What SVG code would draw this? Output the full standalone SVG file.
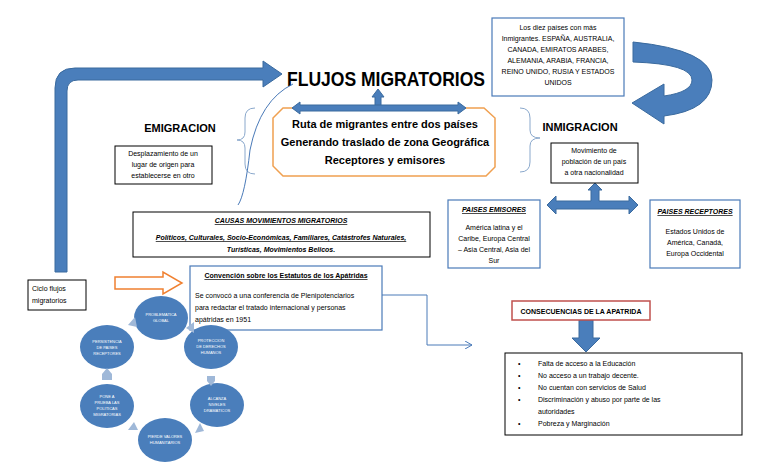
<svg xmlns="http://www.w3.org/2000/svg" width="768" height="466" viewBox="0 0 768 466">
<style>
text{font-family:"Liberation Sans",Arial,sans-serif;fill:#000}
.b{fill:#fff;stroke:#000;stroke-width:1}
.bb{fill:#fff;stroke:#4a7ab8;stroke-width:1.2}
.s{font-size:7px}
.t{font-size:8px}
.bold{font-weight:bold}
.cl{fill:#4a7ebb}
.ct{font-size:4px;fill:#fff;text-anchor:middle}
.ar{fill:#4a7ebb;stroke:#3a6a9e;stroke-width:1}
.sa{fill:#9fb8d8}
</style>
<defs><marker id="m" markerWidth="8" markerHeight="8" refX="7" refY="4" orient="auto"><path d="M0,0 L7,4 L0,8" fill="none" stroke="#4a7ab8"/></marker></defs>
<rect width="768" height="466" fill="#fff"/>
<g id="bigarrow"><path class="ar" d="M55,272 V88 Q55,68 75,68 H263 V61 L282,74 L263,87 V80 H78 Q67,80 67,91 V272 Z"/></g>
<g id="title"><text x="287" y="86" font-size="21" font-weight="bold" textLength="198" lengthAdjust="spacingAndGlyphs">FLUJOS MIGRATORIOS</text></g>
<g id="ruta">
<path d="M283,108 H484 L495,118 V167 L486,176 H283 L273,166 V118 Z" fill="#fff" stroke="#f0a050" stroke-width="1.5"/>
<text x="385" y="128" font-size="11" class="bold" text-anchor="middle">Ruta de migrantes entre dos países</text>
<text x="385" y="146" font-size="11" class="bold" text-anchor="middle">Generando traslado de zona Geográfica</text>
<text x="385" y="164" font-size="11" class="bold" text-anchor="middle">Receptores y emisores</text>
</g>
<g id="connectors" fill="none">
<path class="ar" d="M375,108 V97 H372 L378,89 L384,97 H381 V108 Z"/>
<path class="ar" d="M300,105 H458 V102 L466,108 L458,114 V111 H300 V114 L292,108 L300,102 Z"/>
<path d="M255,108 Q245,108 245,118 V132 Q245,140 237,140 Q245,140 245,148 V164 Q245,174 255,174" stroke="#8aa8cc"/>
<path d="M520,108 Q530,108 530,118 V130 Q530,138 540,138 Q530,138 530,146 V162 Q530,172 520,172" stroke="#8aa8cc"/>
<path d="M293,84 Q260,100 250,150 Q245,195 238,205" stroke="#4a7ab8"/>
<path class="ar" d="M556,201 H591 V190 H588 L595,183 L602,190 H599 V201 H629 V196 L638,205 L629,214 V209 H556 V214 L547,205 L556,196 Z"/>
<path class="ar" d="M633,42 Q712,50 712,80 Q712,110 664,116 V124 L632,103 L664,84 V96 Q692,92 692,80 Q692,64 633,62 Z"/>
<path d="M382,295 H427 V345 H472" stroke="#4a7ab8" marker-end="url(#m)"/>
<path d="M115,277 H163 V272 L182,283 L163,294 V289 H115 Z" fill="#fff" stroke="#f08030" stroke-width="1.5"/>
<path class="ar" d="M579,320 H593 V338 H600 L586,352 L572,338 H579 Z"/>
</g>
<g id="emigracion">
<text x="180" y="132" font-size="11" class="bold" text-anchor="middle">EMIGRACION</text>
<rect class="b" x="115" y="146" width="97" height="38"/>
<text class="s" text-anchor="middle"><tspan x="163" y="156">Desplazamiento de un</tspan><tspan x="163" y="167">lugar de origen para</tspan><tspan x="163" y="178">establecerse en otro</tspan></text>
</g>
<g id="diez">
<rect class="bb" x="492" y="18" width="132" height="78"/>
<text class="s" text-anchor="middle"><tspan x="558" y="30">Los diez países  con más</tspan><tspan x="558" y="41">Inmigrantes. ESPAÑA, AUSTRALIA,</tspan><tspan x="558" y="52">CANADA, EMIRATOS ARABES,</tspan><tspan x="558" y="63">ALEMANIA, ARABIA, FRANCIA,</tspan><tspan x="558" y="74">REINO UNIDO, RUSIA Y ESTADOS</tspan><tspan x="558" y="85">UNIDOS</tspan></text>
</g>
<g id="inmigracion">
<text x="580" y="131" font-size="11" class="bold" text-anchor="middle">INMIGRACION</text>
<rect class="b" x="551" y="143" width="87" height="40"/>
<text class="s" text-anchor="middle"><tspan x="594" y="153">Movimiento de</tspan><tspan x="594" y="164">población de un país</tspan><tspan x="594" y="175">a otra nacionalidad</tspan></text>
</g>
<g id="emisores">
<rect class="bb" x="448" y="200" width="92" height="68"/>
<text class="s bold" x="494" y="212" text-anchor="middle" font-style="italic" text-decoration="underline">PAISES EMISORES</text>
<text class="s" text-anchor="middle"><tspan x="494" y="230">América latina y el</tspan><tspan x="494" y="241">Caribe, Europa Central</tspan><tspan x="494" y="252">– Asia Central, Asia del</tspan><tspan x="494" y="263">Sur</tspan></text>
</g>
<g id="receptores">
<rect class="bb" x="650" y="200" width="90" height="68"/>
<text class="s bold" x="695" y="214" text-anchor="middle" font-style="italic" text-decoration="underline">PAISES RECEPTORES</text>
<text class="s" text-anchor="middle"><tspan x="695" y="234">Estados Unidos de</tspan><tspan x="695" y="245">América, Canadá,</tspan><tspan x="695" y="256">Europa Occidental</tspan></text>
</g>
<g id="causas">
<rect class="b" x="133" y="212" width="297" height="45"/>
<text class="s bold" font-style="italic" text-anchor="middle" text-decoration="underline"><tspan x="281" y="223">CAUSAS  MOVIMIENTOS MIGRATORIOS</tspan><tspan x="281" y="240">Políticos, Culturales, Socio-Económicas, Familiares, Catástrofes Naturales,</tspan></text>
<text class="s bold" font-style="italic" x="281" y="252" text-anchor="middle">Turísticas, Movimientos Belicos.</text>
</g>
<g id="ciclo">
<rect class="b" x="28" y="280" width="58" height="30"/>
<text class="s"><tspan x="32" y="291">Ciclo flujos</tspan><tspan x="32" y="303">migratorios</tspan></text>
</g>
<g id="convencion">
<rect class="bb" x="190" y="266" width="192" height="64"/>
<text class="s bold" x="286" y="278" text-anchor="middle" text-decoration="underline">Convención sobre los Estatutos de los Apátridas</text>
<text class="s"><tspan x="195" y="298">Se convocó a una conferencia de Plenipotenciarios</tspan><tspan x="195" y="310">para redactar el tratado internacional y personas</tspan><tspan x="195" y="322">apátridas en 1951</tspan></text>
</g>
<g id="ciclo-nodes">
<ellipse class="cl" cx="161" cy="318" rx="27" ry="22"/><text class="ct"><tspan x="161" y="316">PROBLEMATICA</tspan><tspan x="161" y="322">GLOBAL</tspan></text>
<ellipse class="cl" cx="211" cy="347" rx="27" ry="22"/><text class="ct"><tspan x="211" y="342">PROTECCION</tspan><tspan x="211" y="348">DE DERECHOS</tspan><tspan x="211" y="354">HUMANOS</tspan></text>
<ellipse class="cl" cx="217" cy="405" rx="27" ry="22"/><text class="ct"><tspan x="217" y="400">ALCANZA</tspan><tspan x="217" y="406">NIVELES</tspan><tspan x="217" y="412">DRAMATICOS</tspan></text>
<ellipse class="cl" cx="165" cy="440" rx="27" ry="22"/><text class="ct"><tspan x="165" y="438">PIERDE VALORES</tspan><tspan x="165" y="444">HUMANITARIOS</tspan></text>
<ellipse class="cl" cx="107" cy="406" rx="27" ry="22"/><text class="ct"><tspan x="107" y="398">PONE A</tspan><tspan x="107" y="404">PRUEBA LAS</tspan><tspan x="107" y="410">POLITICAS</tspan><tspan x="107" y="416">MIGRATORIAS</tspan></text>
<ellipse class="cl" cx="107" cy="347" rx="27" ry="22"/><text class="ct"><tspan x="107" y="343">PERSISTENCIA</tspan><tspan x="107" y="349">DE PAISES</tspan><tspan x="107" y="355">RECEPTORES</tspan></text>
<path class="sa" d="M186,328 L194,322 L194,333 Z"/>
<path class="sa" d="M207,376 H215 V381 L211,386 L207,381 Z"/>
<path class="sa" d="M195,433 L200,423 L204,431 Z"/>
<path class="sa" d="M128,430 L134,422 L138,430 Z"/>
<path class="sa" d="M102,380 V374 L107,368 L112,374 V380 Z"/>
<path class="sa" d="M128,325 L135,317 L137,327 Z"/>
</g>
<g id="consecuencias">
<rect x="512" y="301" width="138" height="19" fill="#fff" stroke="#c0504d" stroke-width="1.5"/>
<text class="s bold" x="581" y="314" text-anchor="middle">CONSECUENCIAS DE LA APATRIDA</text>
<rect class="b" x="505" y="353" width="237" height="82"/>
<text class="s"><tspan x="518" y="366">•</tspan><tspan x="538" y="366">Falta de acceso a la Educación</tspan><tspan x="518" y="378">•</tspan><tspan x="538" y="378">No acceso a un trabajo decente.</tspan><tspan x="518" y="390">•</tspan><tspan x="538" y="390">No cuentan con servicios de Salud</tspan><tspan x="518" y="402">•</tspan><tspan x="538" y="402">Discriminación y abuso por parte de las</tspan><tspan x="538" y="414">autoridades</tspan><tspan x="518" y="426">•</tspan><tspan x="538" y="426">Pobreza  y Marginación</tspan></text>
</g>
</svg>
